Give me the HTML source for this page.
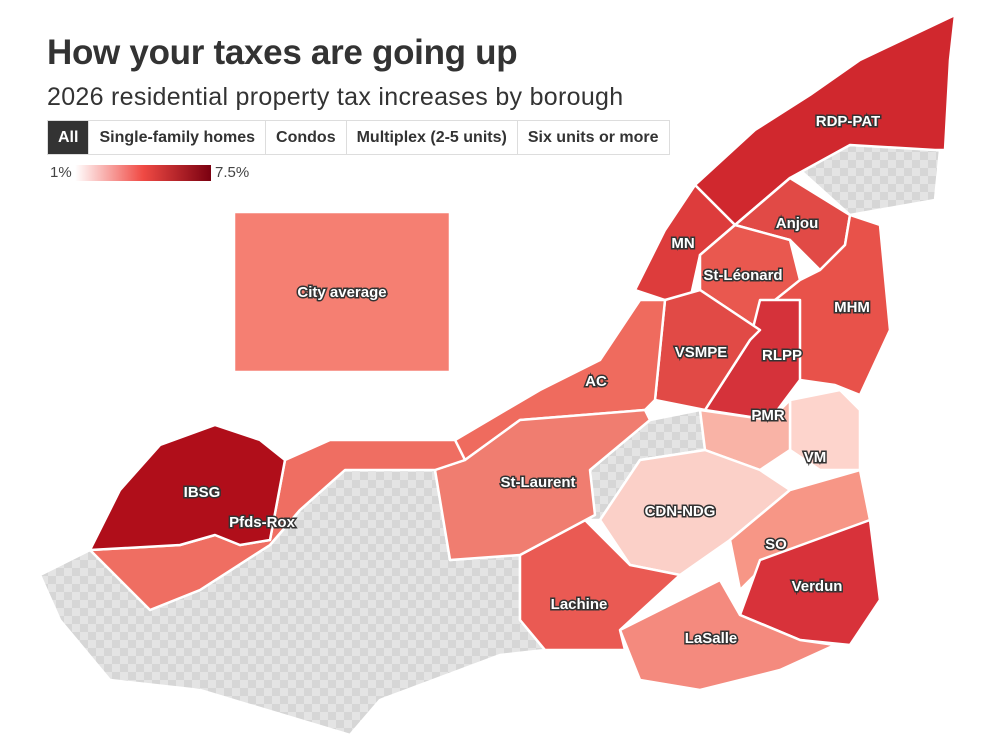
<!DOCTYPE html><html><head><style>
body{margin:0;width:1000px;height:750px;background:#fff;overflow:hidden;font-family:"Liberation Sans",sans-serif;position:relative}
h1{position:absolute;left:47px;top:33px;margin:0;font-size:35px;font-weight:bold;color:#333;letter-spacing:-0.3px}
.sub{position:absolute;left:47px;top:83px;font-size:25px;color:#333;letter-spacing:0.3px}
.tabs{position:absolute;left:47px;top:120px;display:flex;border:1px solid #ddd;height:33px}
.tabs div{padding:0 10px;font-size:16px;font-weight:bold;line-height:33px;color:#333;border-left:1px solid #ddd}
.tabs div.on{background:#333;color:#fff;border:none}
.leg{position:absolute;top:164px;font-size:15px;color:#444}
svg{position:absolute;left:0;top:0}
</style></head><body>
<svg width="1000" height="750">
<defs><pattern id="ck" width="16" height="16" patternUnits="userSpaceOnUse"><rect width="16" height="16" fill="#e4e4e4"/><rect width="8" height="8" fill="#d6d6d6"/><rect x="8" y="8" width="8" height="8" fill="#d6d6d6"/></pattern></defs>
<g stroke="#fff" stroke-width="2.5" stroke-linejoin="round">
<rect x="234" y="212" width="216" height="160" fill="#f57f72"/>
<polygon fill="url(#ck)" points="40,575 90,550 150,610 200,590 270,545 300,510 345,470 435,470 450,560 520,555 520,620 545,650 500,655 380,700 350,735 300,720 200,690 110,680 60,620"/>
<polygon fill="url(#ck)" points="800,170 850,145 940,150 935,200 850,215"/>
<polygon fill="url(#ck)" points="590,470 650,420 700,410 705,450 640,460 600,520 590,520"/>
<polygon fill="#d0282e" points="695,185 755,130 810,95 860,60 955,15 950,60 945,150 935,150 850,145 790,178 735,225"/>
<polygon fill="#dd3c3c" points="635,290 665,230 695,185 735,225 700,255 690,300 665,300"/>
<polygon fill="#e14a46" points="735,225 790,178 850,215 845,245 820,270 790,240"/>
<polygon fill="#e9584f" points="700,255 735,225 790,240 800,280 760,330 700,290"/>
<polygon fill="#e8524a" points="800,280 820,270 845,245 850,215 880,225 890,330 860,395 835,385 800,380 775,300"/>
<polygon fill="#d5323a" points="760,300 800,300 800,380 770,420 705,410 750,340"/>
<polygon fill="#e14a46" points="665,300 700,290 760,330 750,340 705,410 655,400"/>
<polygon fill="#ef6b5e" points="455,440 540,390 600,360 640,300 665,300 655,400 645,410 520,420 465,460"/>
<polygon fill="#fdd4cc" points="790,400 840,390 860,410 860,470 820,470 790,450"/>
<polygon fill="#f9b3a6" points="700,410 770,420 790,400 790,450 760,470 705,450"/>
<polygon fill="#fbd0c8" points="600,520 640,460 705,450 760,470 790,490 730,540 680,575 630,565"/>
<polygon fill="#f79686" points="730,540 790,490 860,470 870,520 770,560 740,590"/>
<polygon fill="#d8323a" points="760,560 870,520 880,600 850,645 800,640 740,615"/>
<polygon fill="#f48a7e" points="620,630 720,580 740,615 800,640 835,645 780,670 700,690 640,680"/>
<polygon fill="#ea5a53" points="520,555 585,520 630,565 680,575 620,630 625,650 545,650 520,620"/>
<polygon fill="#f07d70" points="435,470 465,460 520,420 645,410 650,420 590,470 595,515 520,555 450,560"/>
<polygon fill="#ef6e62" points="90,550 180,545 215,535 240,545 270,540 285,460 330,440 455,440 465,460 435,470 345,470 300,510 270,545 200,590 150,610"/>
<polygon fill="#b00e1a" points="90,550 120,490 160,445 215,425 260,440 285,460 270,540 240,545 215,535 180,545"/>
</g>
<g font-weight="bold" font-size="15" fill="#fff" stroke="#333" stroke-width="3" paint-order="stroke" text-anchor="middle" font-family="Liberation Sans,sans-serif">
<text x="342" y="297">City average</text><text x="848" y="126">RDP-PAT</text><text x="797" y="228">Anjou</text>
<text x="683" y="248">MN</text><text x="743" y="280">St-Léonard</text><text x="852" y="312">MHM</text>
<text x="701" y="357">VSMPE</text><text x="782" y="360">RLPP</text><text x="596" y="386">AC</text>
<text x="768" y="420">PMR</text><text x="815" y="462">VM</text><text x="538" y="487">St-Laurent</text>
<text x="202" y="497">IBSG</text><text x="262" y="527">Pfds-Rox</text><text x="680" y="516">CDN-NDG</text>
<text x="776" y="549">SO</text><text x="817" y="591">Verdun</text><text x="579" y="609">Lachine</text><text x="711" y="643">LaSalle</text>
</g>
<defs><linearGradient id="g"><stop offset="0" stop-color="#fff"/><stop offset=".5" stop-color="#f04a44"/><stop offset="1" stop-color="#7a0010"/></linearGradient></defs>
<rect x="75" y="165" width="136" height="16" fill="url(#g)"/>
</svg>
<h1>How your taxes are going up</h1>
<div class="sub">2026 residential property tax increases by borough</div>
<div class="tabs"><div class="on">All</div><div>Single-family homes</div><div>Condos</div><div>Multiplex (2-5 units)</div><div>Six units or more</div></div>
<div class="leg" style="left:50px">1%</div><div class="leg" style="left:215px">7.5%</div>
</body></html>
